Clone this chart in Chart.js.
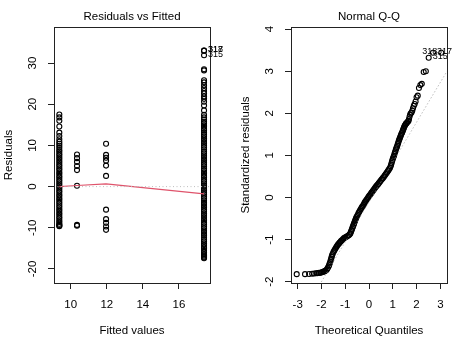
<!DOCTYPE html>
<html>
<head>
<meta charset="utf-8">
<script src="https://cdn.jsdelivr.net/npm/chart.js@4.4.1/dist/chart.umd.min.js"></script>
<style>
  html, body { margin: 0; padding: 0; background: #fff; }
  #wrap { position: relative; width: 474px; height: 338px; }
  .panel { position: absolute; top: 0; width: 237px; height: 338px; }
  #left { left: 0; }
  #right { left: 237px; }
</style>
</head>
<body>
<div id="wrap">
  <div class="panel" id="left"><canvas id="fitChart"></canvas></div>
  <div class="panel" id="right"><canvas id="qqChart"></canvas></div>
</div>
<script>
// ---- residuals vs fitted ----
const fittedLevels = [9.37, 10.35, 11.96, 17.39];
const fittedTicks = [10, 12, 14, 16];
const residTicks = [-20, -10, 0, 10, 20, 30];

const residA = [17.5, 16.8, 16.0, 14.6, 13.1, 12.3, 11.5, 10.9, 10.4, 9.9,
  9.4, 8.9, 8.5, 8.0, 7.6, 7.1, 6.7, 6.2, 5.8, 5.3,
  4.9, 4.4, 4.0, 3.5, 3.1, 2.6, 2.2, 1.7, 1.3, 0.8,
  0.4, -0.1, -0.5, -1.0, -1.4, -1.9, -2.3, -2.8, -3.2, -3.7,
  -4.1, -4.6, -5.0, -5.5, -5.9, -6.4, -6.8, -7.3, -7.7, -8.2,
  -8.6, -9.0, -9.3, -9.5, -9.6];
const residB = [7.8, 6.9, 6.0, 5.0, 4.0, 0.2, -9.3, -9.5];
const residC = [10.4, 7.7, 7.0, 6.3, 5.1, 2.6, -5.6, -7.9, -8.8, -9.7, -10.5];
const residD = [33.0, 33.0, 31.9, 28.5, 28.2, 25.8, 25.3, 24.6, 23.9, 23.2,
  22.6, 21.9, 21.3, 20.6, 19.7, 18.5, 17.4, 16.8, 16.3, 15.8,
  15.4, 14.9, 14.5, 14.0, 13.6, 13.1, 12.6, 12.2, 11.7, 11.3,
  10.8, 10.4, 9.9, 9.5, 9.0, 8.5, 8.1, 7.6, 7.2, 6.7,
  6.3, 5.8, 5.4, 4.9, 4.4, 4.0, 3.5, 3.1, 2.6, 2.2,
  1.7, 1.3, 0.8, 0.3, -0.1, -0.6, -1.0, -1.5, -1.9, -2.4,
  -2.8, -3.3, -3.8, -4.2, -4.7, -5.1, -5.6, -6.0, -6.5, -6.9,
  -7.4, -7.9, -8.3, -8.8, -9.2, -9.7, -10.1, -10.6, -11.0, -11.5,
  -11.9, -12.4, -12.9, -13.3, -13.8, -14.2, -14.7, -15.1, -15.6, -16.0,
  -16.4, -16.7, -17.0, -17.2, -17.4];
// lowess smooth evaluated at each fitted level
const smoothResid = [0.0, 0.27, 0.65, -1.77];

// ---- normal Q-Q ----
const qqTicksX = [-3, -2, -1, 0, 1, 2, 3];
const qqTicksY = [-2, -1, 0, 1, 2, 3, 4];
const qqTheory = [-3.04, -2.69, -2.52, -2.39, -2.30, -2.22, -2.16, -2.10, -2.05, -2.00,
  -1.96, -1.92, -1.885, -1.85, -1.82, -1.79, -1.76, -1.73, -1.70, -1.68,
  -1.655, -1.63, -1.61, -1.59, -1.57, -1.55, -1.53, -1.50, -1.47, -1.44,
  -1.41, -1.38, -1.35, -1.32, -1.29, -1.26, -1.23, -1.20, -1.17, -1.13,
  -1.09, -1.05, -1.01, -0.97, -0.93, -0.89, -0.85, -0.82, -0.79, -0.77,
  -0.75, -0.73, -0.71, -0.69, -0.67, -0.65, -0.63, -0.61, -0.59, -0.57,
  -0.55, -0.53, -0.50, -0.47, -0.44, -0.41, -0.38, -0.35, -0.32, -0.29,
  -0.26, -0.23, -0.20, -0.17, -0.14, -0.11, -0.08, -0.05, -0.02, 0.01,
  0.04, 0.07, 0.10, 0.13, 0.16, 0.19, 0.22, 0.25, 0.28, 0.31,
  0.34, 0.37, 0.40, 0.43, 0.46, 0.49, 0.52, 0.55, 0.58, 0.61,
  0.64, 0.67, 0.70, 0.73, 0.76, 0.79, 0.82, 0.85, 0.88, 0.91,
  0.93, 0.95, 0.97, 0.99, 1.01, 1.03, 1.05, 1.07, 1.09, 1.11,
  1.13, 1.15, 1.17, 1.19, 1.21, 1.23, 1.25, 1.27, 1.29, 1.31,
  1.33, 1.35, 1.37, 1.39, 1.41, 1.43, 1.45, 1.47, 1.49, 1.51,
  1.53, 1.55, 1.57, 1.60, 1.63, 1.66, 1.68, 1.705, 1.73, 1.76,
  1.79, 1.82, 1.85, 1.885, 1.92, 1.96, 2.00, 2.05, 2.10, 2.16,
  2.22, 2.30, 2.39, 2.51, 2.69, 3.04];
const qqSample = [-1.82, -1.82, -1.815, -1.81, -1.805, -1.80, -1.795, -1.79, -1.785, -1.78,
  -1.77, -1.765, -1.755, -1.745, -1.735, -1.72, -1.70, -1.67, -1.64, -1.61,
  -1.57, -1.53, -1.49, -1.45, -1.41, -1.37, -1.34, -1.30, -1.27, -1.24,
  -1.21, -1.18, -1.16, -1.13, -1.11, -1.09, -1.07, -1.05, -1.03, -1.01,
  -0.985, -0.965, -0.95, -0.94, -0.925, -0.91, -0.895, -0.88, -0.86, -0.83,
  -0.80, -0.77, -0.74, -0.71, -0.68, -0.65, -0.62, -0.59, -0.56, -0.53,
  -0.50, -0.47, -0.44, -0.41, -0.37, -0.34, -0.31, -0.28, -0.25, -0.22,
  -0.20, -0.17, -0.14, -0.11, -0.085, -0.06, -0.035, -0.01, 0.015, 0.04,
  0.06, 0.085, 0.11, 0.13, 0.155, 0.18, 0.20, 0.225, 0.25, 0.27,
  0.29, 0.31, 0.33, 0.355, 0.375, 0.40, 0.42, 0.44, 0.46, 0.48,
  0.505, 0.53, 0.55, 0.575, 0.60, 0.625, 0.65, 0.675, 0.70, 0.74,
  0.78, 0.82, 0.86, 0.90, 0.93, 0.96, 0.99, 1.03, 1.07, 1.10,
  1.14, 1.17, 1.20, 1.23, 1.27, 1.30, 1.34, 1.37, 1.40, 1.43,
  1.46, 1.49, 1.52, 1.54, 1.57, 1.60, 1.63, 1.66, 1.69, 1.71,
  1.73, 1.75, 1.76, 1.78, 1.80, 1.82, 1.86, 1.92, 1.97, 2.00,
  2.02, 2.06, 2.12, 2.18, 2.22, 2.28, 2.38, 2.42, 2.60, 2.67,
  2.70, 2.98, 3.00, 3.32, 3.44, 3.44];
// reference line through the quartiles
const qqIntercept = -0.106;
const qqSlope = 0.947;

const FONT = '"Liberation Sans", Arial, Helvetica, sans-serif';
const TEXT_SIZE = 11.5;
Chart.defaults.font.family = FONT;
Chart.defaults.color = '#000';

// Box, caption, rotated y labels and point ids in R's base-graphics style
const rPlot = {
  id: 'rPlot',
  afterDraw(chart, args, opts) {
    const ctx = chart.ctx;
    const a = chart.chartArea;
    ctx.save();
    ctx.strokeStyle = '#222';
    ctx.lineWidth = 1;
    ctx.strokeRect(Math.round(a.left) + 0.5, Math.round(a.top) + 0.5,
      Math.round(a.right - a.left), Math.round(a.bottom - a.top));

    ctx.fillStyle = '#000';
    ctx.font = TEXT_SIZE + 'px ' + FONT;
    ctx.textAlign = 'center';
    ctx.textBaseline = 'middle';
    ctx.fillText(opts.caption, (a.left + a.right) / 2, a.top - 10);

    const ys = chart.scales.y;
    ys.ticks.forEach(t => {
      ctx.save();
      ctx.translate(a.left - 21, ys.getPixelForValue(t.value));
      ctx.rotate(-Math.PI / 2);
      ctx.fillText(String(t.value), 0, 0);
      ctx.restore();
    });

    ctx.font = '9px ' + FONT;
    (opts.ids || []).forEach(id => {
      const el = chart.getDatasetMeta(id.dataset).data[id.index];
      const left = id.side === 'left';
      ctx.textAlign = left ? 'right' : 'left';
      ctx.fillText(id.text, el.x + (left ? -4 : 4), el.y - 1);
    });
    ctx.restore();
  }
};

function axes(xr, yr, xTicks, yTicks, xTitle, yTitle) {
  return {
    x: {
      type: 'linear', min: xr[0], max: xr[1],
      afterBuildTicks: s => { s.ticks = xTicks.map(v => ({ value: v })); },
      afterFit: s => { s.height = 55; },
      grid: { drawOnChartArea: false, drawTicks: true, tickLength: 6, color: '#222' },
      border: { display: false },
      ticks: { font: { size: TEXT_SIZE }, color: '#000', padding: 9, maxRotation: 0, autoSkip: false },
      title: { display: true, text: xTitle, font: { size: TEXT_SIZE }, padding: { top: 0, bottom: 0 } }
    },
    y: {
      type: 'linear', min: yr[0], max: yr[1],
      afterBuildTicks: s => { s.ticks = yTicks.map(v => ({ value: v })); },
      afterFit: s => { s.width = 54; },
      grid: { drawOnChartArea: false, drawTicks: true, tickLength: 6, color: '#222' },
      border: { display: false },
      ticks: { display: false },
      title: { display: true, text: yTitle, font: { size: TEXT_SIZE }, padding: { top: 2, bottom: 0 } }
    }
  };
}

const pointStyle = {
  type: 'scatter',
  pointStyle: 'circle',
  pointRadius: 2.5,
  pointBorderWidth: 1.1,
  borderColor: '#000',
  backgroundColor: 'rgba(0,0,0,0)',
  order: 3
};

const common = {
  responsive: true,
  maintainAspectRatio: false,
  animation: false,
  layout: { padding: { top: 27, right: 27, left: 0, bottom: 0 } },
  plugins: { legend: { display: false }, tooltip: { enabled: false } }
};

const fitX = [9.075, 17.72];
const fitY = [-23.4, 38.74];
const groups = [residA, residB, residC, residD];

new Chart(document.getElementById('fitChart'), {
  data: {
    datasets: [
      ...groups.map((g, i) => ({
        ...pointStyle,
        data: g.map(r => ({ x: fittedLevels[i], y: r }))
      })),
      {
        type: 'line',
        data: fittedLevels.map((f, i) => ({ x: f, y: smoothResid[i] })),
        borderColor: '#DF536B',
        borderWidth: 1.2,
        pointRadius: 0,
        order: 2
      },
      {
        type: 'line',
        data: [{ x: fitX[0], y: 0 }, { x: fitX[1], y: 0 }],
        borderColor: '#BEBEBE',
        borderWidth: 1,
        borderDash: [1, 2.5],
        pointRadius: 0,
        order: 1
      }
    ]
  },
  options: {
    ...common,
    scales: axes(fitX, fitY, fittedTicks, residTicks, 'Fitted values', 'Residuals'),
    plugins: {
      ...common.plugins,
      rPlot: {
        caption: 'Residuals vs Fitted',
        ids: [
          { dataset: 3, index: 0, text: '318', side: 'right' },
          { dataset: 3, index: 1, text: '317', side: 'right' },
          { dataset: 3, index: 2, text: '315', side: 'right' }
        ]
      }
    }
  },
  plugins: [rPlot]
});

const qqX = [-3.28, 3.28];
const qqY = [-2.03, 4.05];

new Chart(document.getElementById('qqChart'), {
  data: {
    datasets: [
      {
        ...pointStyle,
        data: qqTheory.map((q, i) => ({ x: q, y: qqSample[i] }))
      },
      {
        type: 'line',
        data: qqX.map(q => ({ x: q, y: qqIntercept + qqSlope * q })),
        borderColor: '#9a9a9a',
        borderWidth: 1,
        borderDash: [1, 2.5],
        pointRadius: 0,
        order: 1
      }
    ]
  },
  options: {
    ...common,
    scales: axes(qqX, qqY, qqTicksX, qqTicksY, 'Theoretical Quantiles', 'Standardized residuals'),
    plugins: {
      ...common.plugins,
      rPlot: {
        caption: 'Normal Q-Q',
        ids: [
          { dataset: 0, index: 165, text: '318', side: 'left' },
          { dataset: 0, index: 164, text: '317', side: 'right' },
          { dataset: 0, index: 163, text: '315', side: 'right' }
        ]
      }
    }
  },
  plugins: [rPlot]
});
</script>
</body>
</html>
